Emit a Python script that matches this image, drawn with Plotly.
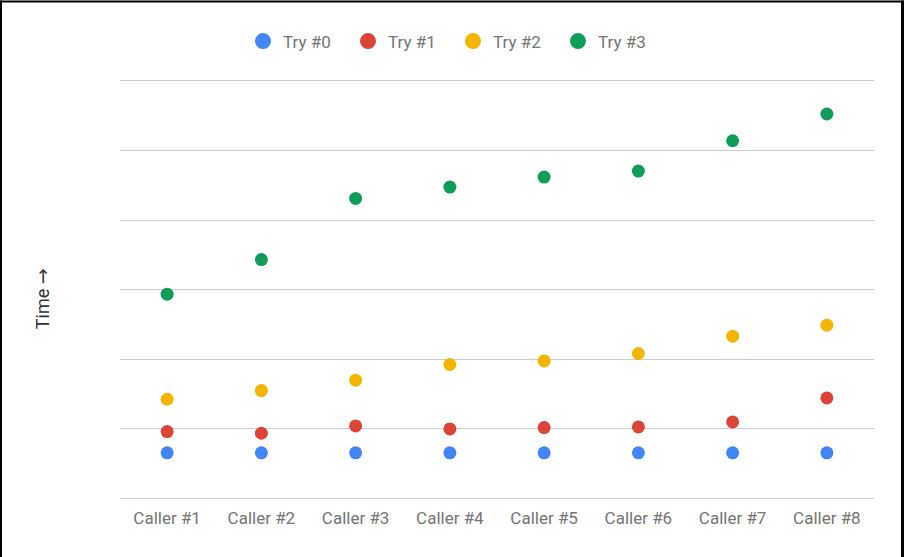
import plotly.graph_objects as go

categories = ["Caller #1", "Caller #2", "Caller #3", "Caller #4",
              "Caller #5", "Caller #6", "Caller #7", "Caller #8"]
series_names = ["Try #0", "Try #1", "Try #2", "Try #3"]
try0 = [0.65, 0.65, 0.65, 0.65, 0.65, 0.65, 0.65, 0.65]
try1 = [0.956, 0.932, 1.037, 0.994, 1.014, 1.022, 1.094, 1.440]
try2 = [1.421, 1.546, 1.695, 1.921, 1.973, 2.079, 2.328, 2.487]
try3 = [2.933, 3.430, 4.311, 4.474, 4.618, 4.704, 5.140, 5.525]
colors = ["#4285F4", "#DB4437", "#F4B400", "#0F9D58"]

FONT = "Roboto"
fig = go.Figure()
for name, vals, col in zip(series_names, [try0, try1, try2, try3], colors):
    fig.add_trace(go.Scatter(
        x=categories, y=vals, mode="markers", name=name, showlegend=False,
        marker=dict(color=col, size=13, line=dict(width=0)),
        hoverinfo="x+y+name"))
for name, col in zip(series_names, colors):
    fig.add_trace(go.Scatter(
        x=[None], y=[None], mode="markers", name=name,
        marker=dict(color=col, size=16, line=dict(width=0))))

L, R, T, B = 120, 30, 80.5, 59
PH = 557 - T - B
PW = 904 - L - R


def px_x(p):
    return (p - L) / PW


def px_y(p):
    return (557 - B - p) / PH


fig.update_layout(
    width=904, height=557,
    margin=dict(l=L, r=R, t=T, b=B, pad=0),
    paper_bgcolor="white", plot_bgcolor="white",
    font=dict(family=FONT, size=17, color="#757575"),
    showlegend=True,
    legend=dict(orientation="h", x=px_x(243), xanchor="left",
                y=px_y(41), yanchor="middle", entrywidth=60,
                font=dict(size=17, color="#757575"),
                itemsizing="trace", bgcolor="rgba(0,0,0,0)"),
    xaxis=dict(type="category", range=[-0.5, 7.5], showgrid=False,
               zeroline=False, showline=True, mirror=True,
               linecolor="#cccccc", linewidth=1, ticks="",
               ticklabelstandoff=5,
               tickfont=dict(size=17, color="#757575", family=FONT)),
    yaxis=dict(range=[0, 6], dtick=1, tick0=0, showgrid=True,
               gridcolor="#cccccc", gridwidth=1, zeroline=False,
               showline=False, showticklabels=False, ticks=""),
    annotations=[dict(text="Time <span style='font-family:DejaVu Sans;font-size:19px'>\u2192</span>",
                      textangle=-90, xref="paper",
                      yref="paper", x=px_x(42), y=px_y(299),
                      xanchor="center", yanchor="middle", showarrow=False,
                      font=dict(size=18, color="#333333", family=FONT))],
    shapes=[
        dict(type="line", xref="paper", yref="paper",
             x0=px_x(1), x1=px_x(1), y0=px_y(0), y1=px_y(600),
             line=dict(color="black", width=2), layer="above"),
        dict(type="line", xref="paper", yref="paper",
             x0=px_x(0), x1=px_x(904), y0=px_y(1), y1=px_y(1),
             line=dict(color="black", width=2), layer="above"),
        dict(type="line", xref="paper", yref="paper",
             x0=px_x(902.5), x1=px_x(902.5), y0=px_y(0), y1=px_y(600),
             line=dict(color="black", width=3), layer="above"),
    ],
)

fig.write_html("out.html", config={"displayModeBar": False},
               post_script="document.body.style.margin='0';")
